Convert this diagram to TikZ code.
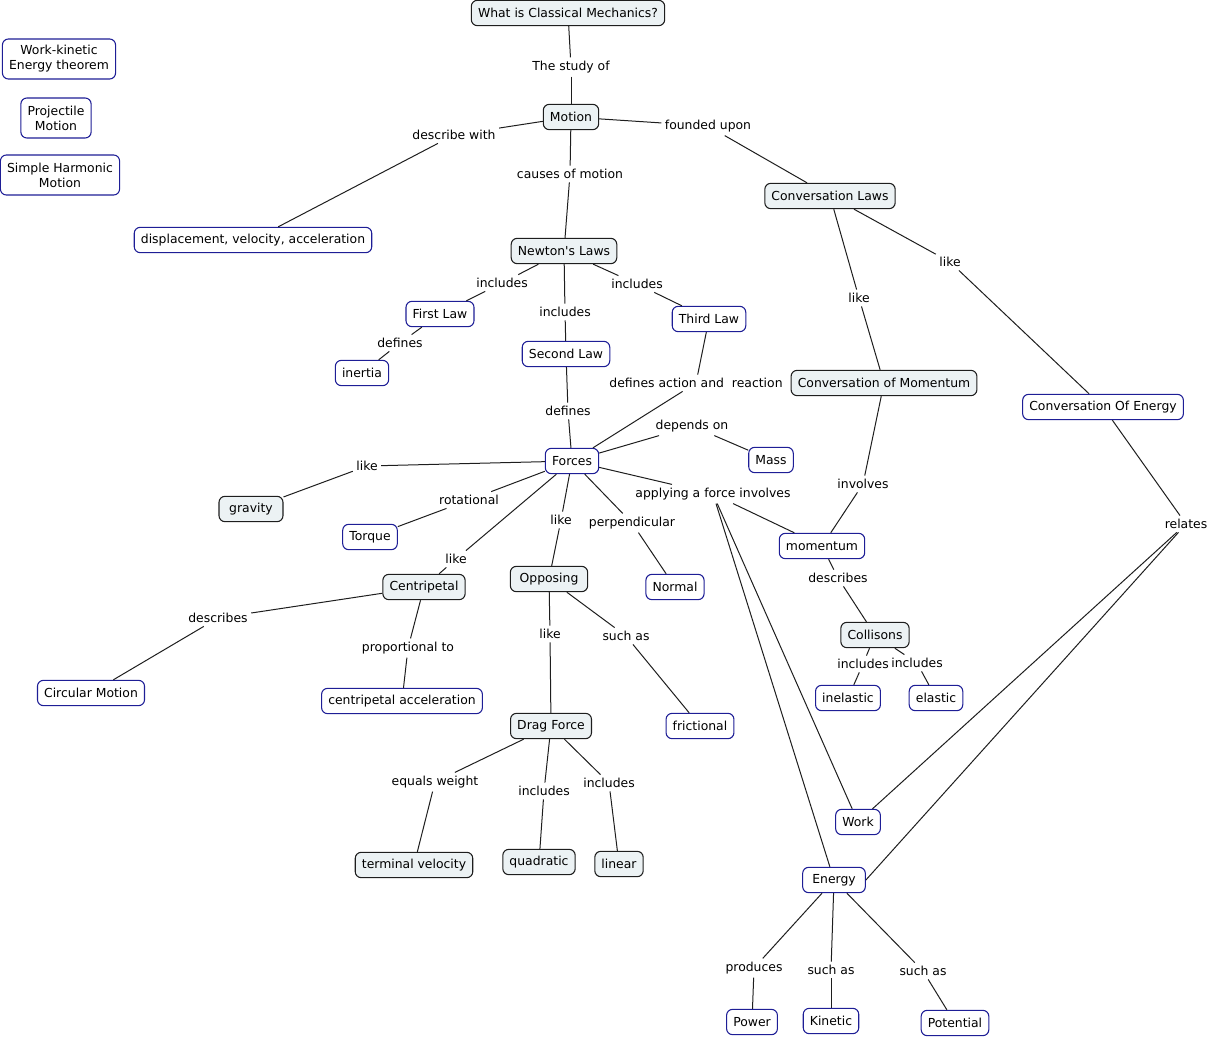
\documentclass[tikz,border=0pt]{standalone}
\usepackage{fontspec}
\setmainfont{DejaVu Sans}
\usepackage{tikz}
\usetikzlibrary{positioning}
\definecolor{conceptfill}{RGB}{236,242,244}
\definecolor{conceptblue}{RGB}{30,30,150}
\definecolor{linkgray}{RGB}{30,30,30}
\tikzset{
  graybox/.style={
    draw=linkgray, line width=0.8pt, rounded corners=4.5pt,
    fill=conceptfill, minimum height=19pt,
    inner xsep=5pt, font=\fontsize{9.3}{11.2}\selectfont, align=center
  },
  bluebox/.style={
    graybox, draw=conceptblue, fill=white
  },
  phrase/.style={
    inner sep=2.5pt, font=\fontsize{9.3}{11.2}\selectfont, align=center
  },
  link/.style={draw=linkgray, line width=0.75pt},
}
\begin{document}
\begin{tikzpicture}[x=0.75pt,y=-0.75pt]
  \useasboundingbox (0,0) rectangle (1210,1038);

  % concepts
  \node[graybox] (wcm) at (568,13) {What is Classical Mechanics?};
  \node[graybox] (motion) at (571,117) {Motion};
  \node[graybox] (conslaws) at (830,196) {Conversation Laws};
  \node[graybox] (newton) at (564,251) {Newton\textquotesingle s Laws};
  \node[bluebox] (first) at (440,314) {First Law};
  \node[bluebox] (second) at (566,354) {Second Law};
  \node[bluebox] (third) at (709,319) {Third Law};
  \node[bluebox] (inertia) at (362,373) {inertia};
  \node[graybox] (consmom) at (884,383) {Conversation of Momentum};
  \node[bluebox] (consen) at (1103,407) {Conversation Of Energy};
  \node[bluebox] (forces) at (572,461) {Forces};
  \node[bluebox] (mass) at (771,460) {Mass};
  \node[graybox, minimum width=48pt] (gravity) at (251,509) {gravity};
  \node[bluebox] (torque) at (370,537) {Torque};
  \node[graybox] (centripetal) at (424,587) {Centripetal};
  \node[graybox, minimum width=58pt] (opposing) at (549,579) {Opposing};
  \node[bluebox] (normal) at (675,587) {Normal};
  \node[bluebox] (momentum) at (822,546) {momentum};
  \node[graybox] (collisons) at (875,635) {Collisons};
  \node[bluebox] (inelastic) at (848,698) {inelastic};
  \node[bluebox] (elastic) at (936,698) {elastic};
  \node[bluebox] (circular) at (91,693) {Circular Motion};
  \node[bluebox] (centacc) at (402,701) {centripetal acceleration};
  \node[graybox] (drag) at (551,726) {Drag Force};
  \node[bluebox] (frictional) at (700,726) {frictional};
  \node[graybox] (terminal) at (414,865) {terminal velocity};
  \node[graybox] (quadratic) at (539,862) {quadratic};
  \node[graybox] (linear) at (619,864) {linear};
  \node[bluebox] (work) at (858,822) {Work};
  \node[bluebox, minimum width=47pt] (energy) at (834,880) {Energy};
  \node[bluebox] (power) at (752,1022) {Power};
  \node[bluebox] (kinetic) at (831,1021) {Kinetic};
  \node[bluebox] (potential) at (955,1023) {Potential};
  \node[bluebox, minimum height=30pt] (wket) at (59,59) {Work-kinetic\\Energy theorem};
  \node[bluebox, minimum height=30pt] (projectile) at (56,118) {Projectile\\Motion};
  \node[bluebox, minimum height=30pt] (shm) at (60,175) {Simple Harmonic\\Motion};
  \node[bluebox] (disp) at (253,240) {displacement, velocity, acceleration};

  % linking phrases
  \node[phrase] (studyof) at (571,67) {The study of};
  \node[phrase] (describewith) at (454,135) {describe with};
  \node[phrase] (founded) at (708,126) {founded upon};
  \node[phrase] (causes) at (570,174) {causes of motion};
  \node[phrase] (incfirst) at (502,283) {includes};
  \node[phrase] (incsecond) at (565,312) {includes};
  \node[phrase] (incthird) at (637,284) {includes};
  \node[phrase] (definertia) at (400,343) {defines};
  \node[phrase] (defforces) at (568,411) {defines};
  \node[phrase] (defaction) at (696,383) {defines action and\ \ reaction};
  \node[phrase] (likemom) at (859,298) {like};
  \node[phrase] (likeen) at (950,262) {like};
  \node[phrase] (depends) at (692,426) {depends on};
  \node[phrase] (likegrav) at (367,466) {like};
  \node[phrase] (rotational) at (469,500) {rotational};
  \node[phrase] (likecent) at (456,559) {like};
  \node[phrase] (likeopp) at (561,520) {like};
  \node[phrase] (perp) at (632,523) {perpendicular};
  \node[phrase] (applying) at (713,494) {applying a force involves};
  \node[phrase] (involves) at (863,484) {involves};
  \node[phrase] (relates) at (1186,524) {relates};
  \node[phrase] (descoll) at (838,578) {describes};
  \node[phrase] (incinel) at (863,664) {includes};
  \node[phrase] (incel) at (917,663) {includes};
  \node[phrase] (desccirc) at (218,618) {describes};
  \node[phrase] (propto) at (408,648) {proportional to};
  \node[phrase] (likedrag) at (550,634) {like};
  \node[phrase] (suchfric) at (626,636) {such as};
  \node[phrase] (equals) at (435,782) {equals weight};
  \node[phrase] (incquad) at (544,791) {includes};
  \node[phrase] (inclin) at (609,783) {includes};
  \node[phrase] (produces) at (754,968) {produces};
  \node[phrase] (suchkin) at (831,970) {such as};
  \node[phrase] (suchpot) at (923,971) {such as};

  % connectors
  \foreach \a/\b in {wcm/studyof, studyof/motion,
      motion/describewith, describewith/disp,
      motion/founded, founded/conslaws,
      motion/causes, causes/newton,
      newton/incfirst, incfirst/first,
      newton/incsecond, incsecond/second,
      newton/incthird, incthird/third,
      first/definertia, definertia/inertia,
      second/defforces, defforces/forces,
      third/defaction, defaction/forces,
      conslaws/likemom, likemom/consmom,
      conslaws/likeen, likeen/consen,
      forces/depends, depends/mass,
      forces/likegrav, likegrav/gravity,
      forces/rotational, rotational/torque,
      forces/likecent, likecent/centripetal,
      forces/likeopp, likeopp/opposing,
      forces/perp, perp/normal,
      forces/applying, applying/momentum, applying/work, applying/energy,
      consmom/involves, involves/momentum,
      consen/relates, relates/work, relates/energy.east,
      momentum/descoll, descoll/collisons,
      collisons/incinel, incinel/inelastic,
      collisons/incel, incel/elastic,
      centripetal/desccirc, desccirc/circular,
      centripetal/propto, propto/centacc,
      opposing/likedrag, likedrag/drag,
      opposing/suchfric, suchfric/frictional,
      drag/equals, equals/terminal,
      drag/incquad, incquad/quadratic,
      drag/inclin, inclin/linear,
      energy/produces, produces/power,
      energy/suchkin, suchkin/kinetic,
      energy/suchpot, suchpot/potential}
    \draw[link] (\a) -- (\b);
\end{tikzpicture}
\end{document}
